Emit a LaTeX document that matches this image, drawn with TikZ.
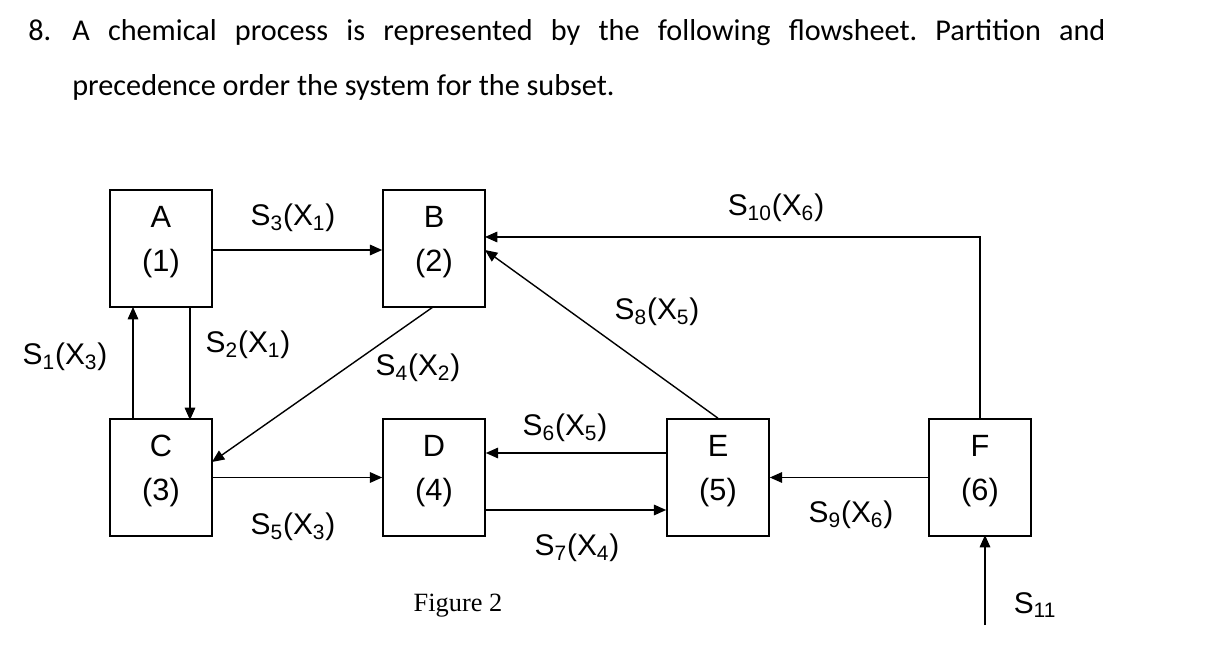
\documentclass[tikz,border=0pt]{standalone}
\usepackage{fontspec}
\setmainfont{Liberation Sans}
\newfontfamily\hdr{Carlito}
\newfontfamily\tms{Liberation Serif}
\usetikzlibrary{arrows.meta}
\newcommand{\strlab}[2]{S\textsubscript{#1}(X\textsubscript{#2})}
\frenchspacing
\begin{document}
\begin{tikzpicture}[x=0.02cm,y=-0.02cm,
  box/.style={draw,line width=0.9pt,minimum width=102*0.02cm,minimum height=117*0.02cm,inner sep=0pt},
  bt/.style={align=center,font=\fontsize{17.5}{25}\selectfont},
  lab/.style={font=\fontsize{17}{19}\selectfont,inner sep=0pt},
  arr/.style={line width=0.8pt,-{Triangle[length=7pt,width=6pt]}}]
\useasboundingbox (0,0) rectangle (1224,648);
\node[anchor=base west,inner sep=0pt,font=\hdr\fontsize{17.2}{18}\selectfont] (n8) at (28,41) {8.};
\node[anchor=base west,inner sep=0pt,font=\hdr\fontsize{17.2}{18}\selectfont] (h1) at (72,41) {\makebox[588pt][s]{A chemical process is represented by the following flowsheet. Partition and}};
\node[anchor=base west,inner sep=0pt,font=\hdr\fontsize{17.2}{18}\selectfont] (h2) at (72,96) {precedence order the system for the subset.};
\node[box] (A) at (161,248.5) {}; \node[bt] at (161,242) {A\\(1)};
\node[box] (B) at (434,248.5) {}; \node[bt] at (434,242) {B\\(2)};
\node[box] (C) at (161,477.5) {}; \node[bt] at (161,471) {C\\(3)};
\node[box] (D) at (434,477.5) {}; \node[bt] at (434,471) {D\\(4)};
\node[box] (E) at (718,477.5) {}; \node[bt] at (718,471) {E\\(5)};
\node[box] (F) at (980,477.5) {}; \node[bt] at (980,471) {F\\(6)};
\draw[arr] (A.east|-0,250) -- (B.west|-0,250);
\draw[arr] (190,307) -- (190,420);
\draw[arr] (133,420) -- (133,307);
\draw[arr] (433,307) -- (212,462);
\draw[arr] (C.east) -- (D.west);
\draw[arr] (E.west|-0,453) -- (D.east|-0,453);
\draw[arr] (D.east|-0,510) -- (E.west|-0,510);
\draw[arr] (E.north) -- (485,250);
\draw[arr] (F.north) -- (980,237) -- (485,237);
\draw[arr] (F.west) -- (E.east);
\coordinate (s11) at (985,625);
\draw[arr] (s11) -- (985,535);
\node[lab] at (293,218) {\strlab{3}{1}};
\node[lab] at (248,345) {\strlab{2}{1}};
\node[lab] at (65,357) {\strlab{1}{3}};
\node[lab] at (418,368) {\strlab{4}{2}};
\node[lab] at (293,527) {\strlab{5}{3}};
\node[lab] at (565,428) {\strlab{6}{5}};
\node[lab] at (577,548) {\strlab{7}{4}};
\node[lab] at (657,312) {\strlab{8}{5}};
\node[lab] at (776,208) {\strlab{10}{6}};
\node[lab] at (851,515) {\strlab{9}{6}};
\node[lab] at (1035,605) {S\textsubscript{11}};
\node[inner sep=0pt,font=\tms\fontsize{15}{18}\selectfont] (fig) at (458,606) {Figure 2};
\end{tikzpicture}
\end{document}
